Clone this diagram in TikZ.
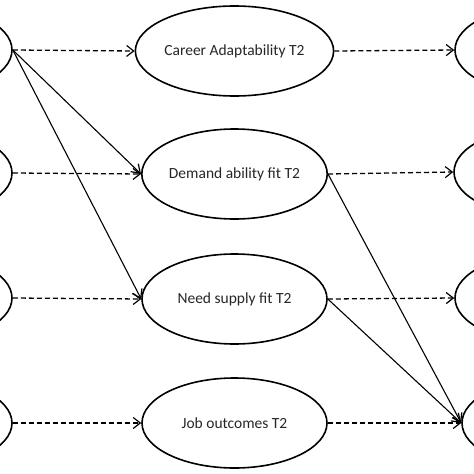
\documentclass[tikz,border=0pt]{standalone}
\usepackage{fontspec}
\setmainfont{Carlito}
\usetikzlibrary{shapes.geometric,arrows.meta}
\begin{document}
\begin{tikzpicture}[x=1pt,y=1pt,
  latent/.style={ellipse,draw,line width=1.6pt,minimum width=185pt,minimum height=90pt,inner sep=0pt,font=\fontsize{15.5}{18}\selectfont,text=black!85},
  dashlink/.style={dash pattern=on 5pt off 3pt,line width=1.3pt,-{Straight Barb[length=7pt,width=11pt,line width=1.2pt]}},
  solidlink/.style={line width=1.1pt,-{Straight Barb[length=8pt,width=11pt,line width=1.2pt]}}]
\useasboundingbox (0,0) rectangle (474,-474);
\clip (0,0) rectangle (474,-474);
\node[latent] (l1) at (-80.5,-50) {};
\node[latent] (l2) at (-80.5,-173) {};
\node[latent] (l3) at (-80.5,-298) {};
\node[latent] (l4) at (-80.5,-423) {};
\node[latent] (m1) at (234.5,-51) {Career Adaptability T2};
\node[latent] (m2) at (234.5,-174) {Demand ability fit T2};
\node[latent] (m3) at (234.5,-299) {Need supply fit T2};
\node[latent] (m4) at (234.5,-423) {Job outcomes T2};
\node[latent] (r1) at (547.5,-50) {};
\node[latent] (r2) at (546.5,-172) {};
\node[latent] (r3) at (547.5,-298) {};
\node[latent] (r4) at (554.5,-423) {};
\foreach \i in {1,2,3,4}{
  \draw[dashlink] (l\i.east) -- (m\i.west);
  \draw[dashlink] (m\i.east) -- (r\i.west);
}
\draw[solidlink] (l1.east) -- (m2.west);
\draw[solidlink] (l1.east) -- (m3.west);
\draw[solidlink] (m2.east) -- (r4.west);
\draw[solidlink] (m3.east) -- (r4.west);
\end{tikzpicture}
\end{document}
